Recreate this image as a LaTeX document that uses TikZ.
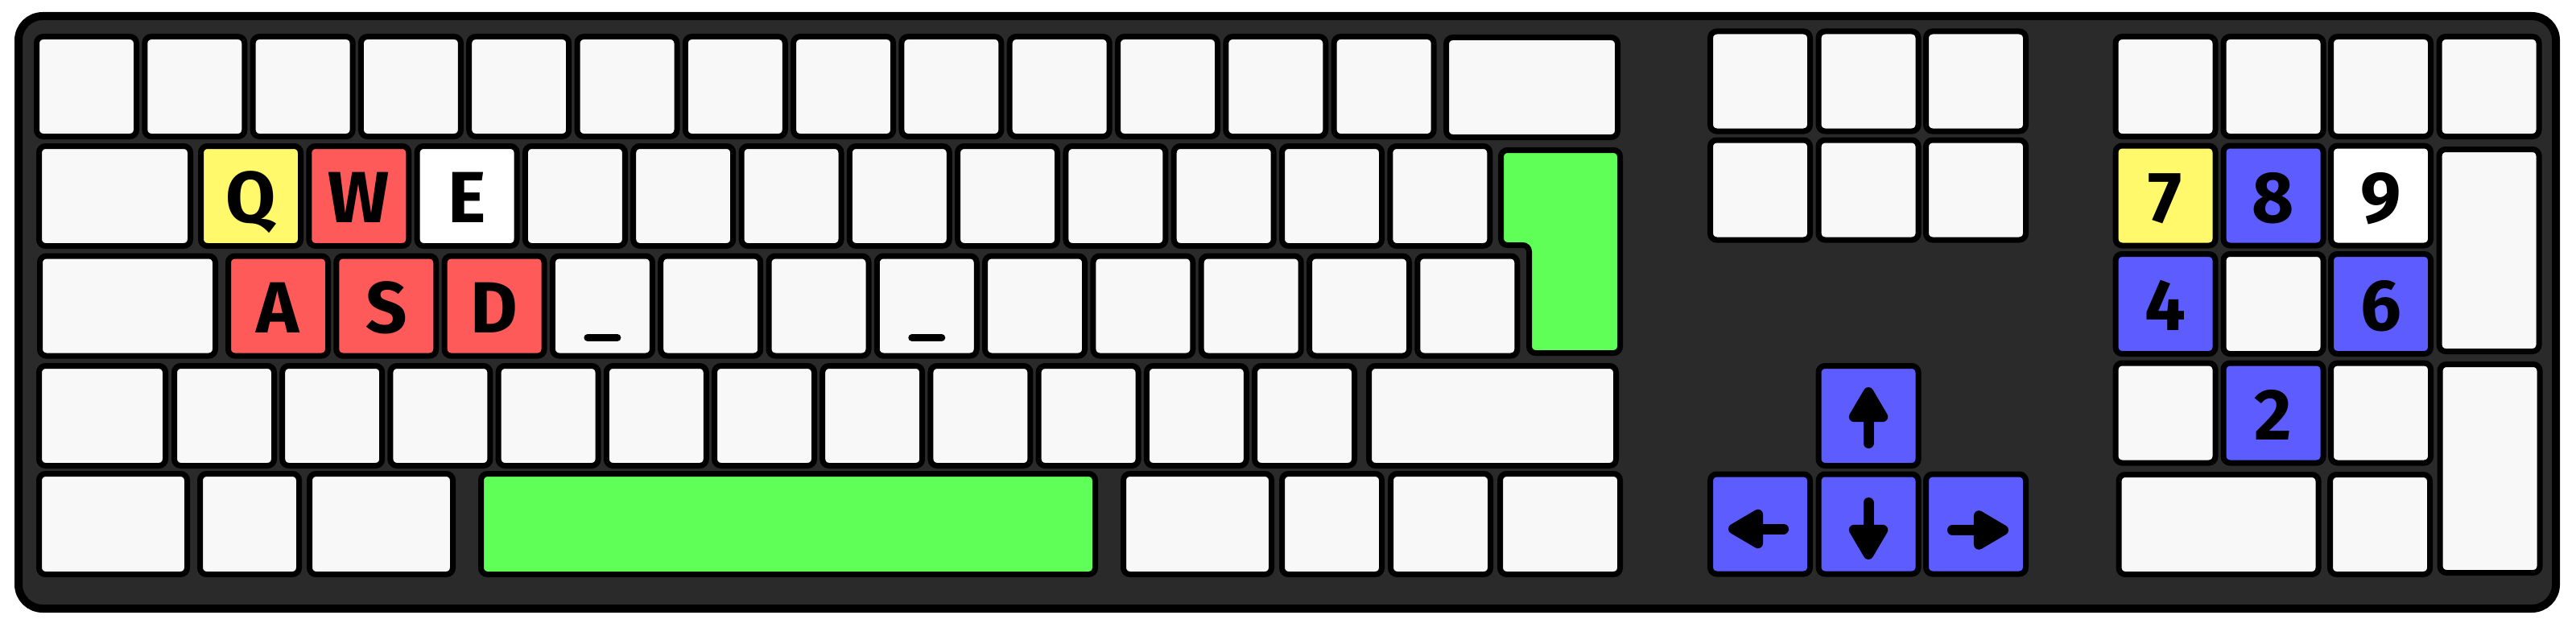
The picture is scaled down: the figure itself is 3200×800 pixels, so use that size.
\documentclass[tikz,border=0pt]{standalone}
\usepackage{fontspec}
\setmainfont{Fira Sans}
\usetikzlibrary{arrows.meta}
\definecolor{boardgray}{HTML}{2A2A2A}
\definecolor{capgray}{HTML}{F8F8F8}
\definecolor{capwhite}{HTML}{FFFFFF}
\definecolor{capyellow}{HTML}{FFF96B}
\definecolor{capred}{HTML}{FF5A5A}
\definecolor{capgreen}{HTML}{5FFF57}
\definecolor{capblue}{HTML}{5C5CFF}
\begin{document}
\begin{tikzpicture}
[x=1pt, y=-1pt,
  boarddecorate/.style={draw=black,line width=10pt,rounded corners=30pt,fill=boardgray},%
  capline/.style={draw=black,line width=7pt,rounded corners=8pt},%
  keydecorate/.style={capline,fill=capgray,inner sep=0pt,minimum width=124pt,
    minimum height=124pt,text height=66pt,text depth=0pt,
    font=\fontsize{90}{90}\selectfont\bfseries},%
  arrowdecorate/.style={line width=13pt,line cap=round,
    -{Triangle[round,length=50pt,width=54pt]}},%
  bumpdecorate/.style={line width=9pt,line cap=round}]
\useasboundingbox (0,0) rectangle (3200,800);
%% board
\draw[boarddecorate] (23,20) rectangle (3175,756);
%% plain keys of one unit
\foreach \n in {0,...,12}
{
  \node (top\n) at ({107.5+134.3*\n},107.5) [keydecorate] {};
}
\foreach \n in {3,...,11}
{
  \node (upper\n) at ({311.5+134.3*\n},243.5) [keydecorate] {};
  \node (home\n) at ({345.5+134.3*\n},380) [keydecorate] {};
}
\foreach \n in {0,...,10}
{
  \node (lower\n) at ({278.5+134.2*\n},516.5) [keydecorate] {};
}
\foreach \nodename/\x/\y in {ins/2186.5/101, home/2321/101, pgup/2454.5/101,
  del/2186.5/236, end/2321/236, pgdn/2454.5/236, numlock/2690/107.5,
  numdiv/2824/107.5, nummul/2957.5/107.5, numminus/3092/107.5,
  num5/2824/377.5, num1/2690/513, num3/2957.5/513, numdot/2956.5/651.5}
{
  \node (\nodename) at (\x,\y) [keydecorate] {};
}
%% wide and tall keys
\foreach \nodename/\x/\y/\w/\h in {bksp/1903/108.5/213/124,
  tab/142.5/243.5/188/124, caps/158.5/380/218/124,
  lshift/127/516.5/157/124, rshift/1854/516.5/307/124,
  lctrl/140.5/651/184/125, lwin/310/651/123/125, lalt/473.5/651/178/125,
  ralt/1487.5/651/184/125, rwin/1654.5/651/124/125,
  menu/1789.5/651/124/125, rctrl/1938/651/149/125,
  numplus/3092/311/124/251, numenter/3093/582/124/259,
  num0/2756/651.5/248/124}
{
  \node (\nodename) at (\x,\y) [keydecorate,minimum width={\w*1pt},
    minimum height={\h*1pt}] {};
}
%% marked keys
\foreach \nodename/\x/\y/\colour/\txt in {q/311.5/243.5/capyellow/Q,
  w/445.8/243.5/capred/W, e/580.1/243.5/capwhite/E,
  a/345.5/380/capred/A, s/479.8/380/capred/S, d/614.1/380/capred/D,
  num7/2690/243/capyellow/7, num8/2824/243/capblue/8,
  num9/2957.5/243/capwhite/9, num4/2690/377.5/capblue/4,
  num6/2957.5/377.5/capblue/6, num2/2824/513/capblue/2,
  arrowup/2321/516.5/capblue/{}, arrowleft/2186.5/651/capblue/{},
  arrowdown/2321/651/capblue/{}, arrowright/2454.5/651/capblue/{}}
{
  \node (\nodename) at (\x,\y) [keydecorate,fill=\colour] {\txt};
}
\node (space) at (979,651) [keydecorate,fill=capgreen,minimum width=763pt,
  minimum height=125pt] {};
\draw[capline,fill=capgreen] (1864.5,186.5) -- (2012.5,186.5)
  -- (2012.5,438.5) -- (1899.5,438.5) -- (1899.5,304.5)
  -- (1864.5,304.5) -- cycle;
%% homing bumps
\foreach \nodename in {home3, home6}
{
  \draw[bumpdecorate] ([shift={(-18.5pt,-39.5pt)}]\nodename.center) -- ++(37,0);
}
%% arrows
\draw[arrowdecorate] ([yshift=-34pt]arrowup.center) -- ([yshift=35.5pt]arrowup.center);
\draw[arrowdecorate] ([yshift=26.5pt]arrowdown.center) -- ([yshift=-44pt]arrowdown.center);
\draw[arrowdecorate] ([shift={(29pt,-6pt)}]arrowleft.center)
  -- ([shift={(-39.5pt,-6pt)}]arrowleft.center);
\draw[arrowdecorate] ([shift={(-29pt,-7.5pt)}]arrowright.center)
  -- ([shift={(40.5pt,-7.5pt)}]arrowright.center);
\end{tikzpicture}
\end{document}
